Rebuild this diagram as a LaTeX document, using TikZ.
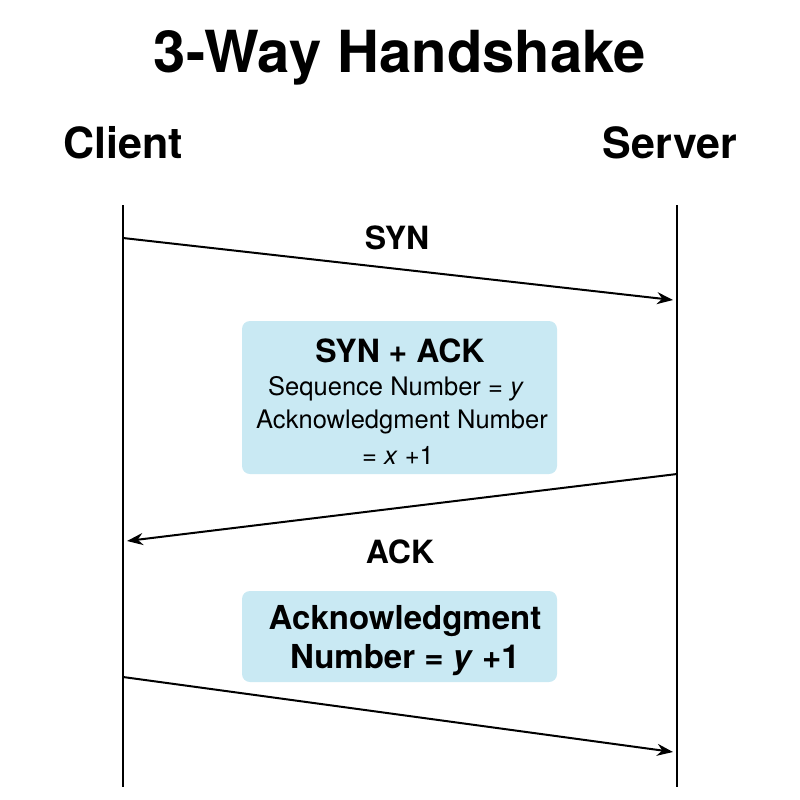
\documentclass[tikz,border=0pt]{standalone}
\usepackage{fontspec}
\setmainfont{TeX Gyre Heros}
\usetikzlibrary{arrows.meta}
\definecolor{boxblue}{HTML}{C9E9F3}
\begin{document}
\begin{tikzpicture}[x=1pt,y=-1pt,
  life/.style={line width=2.2pt},
  msg/.style={line width=2pt,-{Stealth[length=16pt,width=12pt]}},
  infobox/.style={fill=boxblue,rounded corners=8pt},
  lbl/.style={font=\fontsize{32}{36}\selectfont\bfseries},
  txt/.style={font=\fontsize{25.5}{28}\selectfont}]
\useasboundingbox (0,0) rectangle (800,800);
\node (title) at (400,58) {\fontsize{58}{62}\selectfont\bfseries 3-Way Handshake};
\node (client) at (123,143) {\fontsize{43}{46}\selectfont\bfseries Client};
\node (server) at (670,143) {\fontsize{43}{46}\selectfont\bfseries Server};
\coordinate (c0) at (123,205); \coordinate (c1) at (123,787);
\coordinate (s0) at (677,205); \coordinate (s1) at (677,787);
\draw[life] (c0) -- (c1);
\draw[life] (s0) -- (s1);
\coordinate (a1s) at (123,238); \coordinate (a1e) at (673,300);
\draw[msg] (a1s) -- (a1e);
\node[lbl] (syn) at (397,238) {SYN};
\node[infobox,minimum width=315pt,minimum height=153pt] (box1) at (399.5,397.5) {};
\node[lbl] (synack) at (400,351) {SYN + ACK};
\node[txt] (seq) at (396,389) {Sequence Number = \textit{y}};
\node[txt] (ackn) at (402,422) {Acknowledgment Number};
\node[txt] (xp1) at (398,455) {= \textit{x} +1};
\coordinate (a2s) at (677,474); \coordinate (a2e) at (127,541);
\draw[msg] (a2s) -- (a2e);
\node[lbl] (ack) at (400,552) {ACK};
\node[infobox,minimum width=315pt,minimum height=91pt] (box2) at (399.5,636.5) {};
\node[font=\fontsize{33}{36}\selectfont\bfseries] (ack1) at (405,621) {Acknowledgment};
\node[font=\fontsize{33}{36}\selectfont\bfseries] (ack2) at (405,660) {Number = \textit{y} +1};
\coordinate (a3s) at (123,677); \coordinate (a3e) at (673,752);
\draw[msg] (a3s) -- (a3e);
\end{tikzpicture}
\end{document}
